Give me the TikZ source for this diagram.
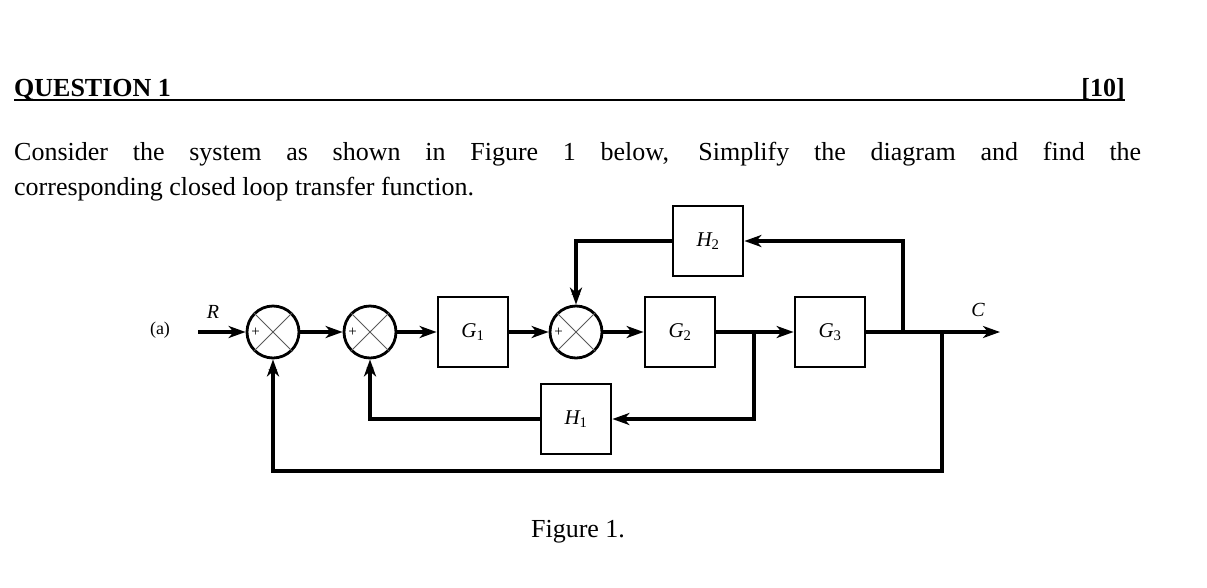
\documentclass[tikz,border=0pt]{standalone}
\usepackage{fontspec}
\setmainfont{Liberation Serif}
\usetikzlibrary{arrows.meta}
\begin{document}
\begin{tikzpicture}[x=1pt,y=-1pt,
  sig/.style={line width=4.2pt},
  arr/.style={sig,-{Stealth[length=17pt,width=12pt,inset=5pt]}},
  blk/.style={draw,line width=2.8pt,minimum width=70pt,minimum height=70pt,inner sep=0pt,font=\fontsize{21}{21}\selectfont\itshape},
  sumj/.style={draw,circle,line width=2.8pt,minimum size=52pt,inner sep=0pt},
  sgn/.style={font=\fontsize{15}{15}\selectfont,inner sep=0pt},
  lab/.style={font=\fontsize{20}{20}\selectfont\itshape,inner sep=0pt}]
\useasboundingbox (0,0) rectangle (1207,587);
% header
\node[anchor=base west,inner sep=0pt,font=\fontsize{26}{26}\selectfont\bfseries] (q) at (14,96) {QUESTION 1};
\node[anchor=base east,inner sep=0pt,font=\fontsize{26}{26}\selectfont\bfseries] (m) at (1125,96) {[10]};
\draw[line width=2pt] (14,100) -- (1125,100);
\node[anchor=base west,inner sep=0pt,font=\fontsize{26}{26}\selectfont] (t1) at (14,160) {\makebox[1127pt][s]{Consider the system as shown in Figure 1 below, Simplify the diagram and find the}};
\node[anchor=base west,inner sep=0pt,font=\fontsize{26}{26}\selectfont] (t2) at (14,195) {corresponding closed loop transfer function.};
\node[anchor=base,inner sep=0pt,font=\fontsize{26}{26}\selectfont] (fig) at (578,537) {Figure 1.};
% diagram
\node[sumj] (s1) at (273,332) {};
\node[sumj] (s2) at (370,332) {};
\node[sumj] (s3) at (576,332) {};
\foreach \s in {s1,s2,s3}{
  \draw[gray!70!black,line width=1pt] (\s.north east) -- (\s.south west) (\s.north west) -- (\s.south east);}
\node[blk] (g1) at (473,332) {G\textsubscript{\upshape 1}};
\node[blk] (g2) at (680,332) {G\textsubscript{\upshape 2}};
\node[blk] (g3) at (830,332) {G\textsubscript{\upshape 3}};
\node[blk] (h1) at (576,419) {H\textsubscript{\upshape 1}};
\node[blk] (h2) at (708,241) {H\textsubscript{\upshape 2}};
\node[sgn] at ([xshift=10pt]s1.west) {+};
\node[sgn] at ([yshift=-10pt]s1.south) {$-$};
\node[sgn] at ([xshift=10pt]s2.west) {+};
\node[sgn] at ([yshift=-10pt]s2.south) {+};
\node[sgn] at ([xshift=10pt]s3.west) {+};
\node[sgn] at ([yshift=10pt]s3.north) {$-$};
\node[font=\fontsize{18}{18}\selectfont,inner sep=0pt] (a) at (160,330) {(a)};
\coordinate (in) at (198,332);
\coordinate (out) at (1000,332);
\coordinate (b1) at (754,332);
\coordinate (b2) at (903,332);
\coordinate (b3) at (942,332);
\node[lab] (R) at (213,312) {R};
\node[lab] (C) at (978,310) {C};
\draw[arr] (in) -- (s1);
\draw[arr] (s1) -- (s2);
\draw[arr] (s2) -- (g1);
\draw[arr] (g1) -- (s3);
\draw[arr] (s3) -- (g2);
\draw[arr] (g2) -- (g3);
\draw[sig] (g3) -- (b3);
\draw[arr] (b3) -- (out);
\draw[arr] (b1) |- (h1);
\draw[arr] (h1) -| (s2);
\draw[arr] (b2) |- (h2);
\draw[arr] (h2) -| (s3);
\draw[arr] (b3) |- (273,471) -- (s1);
\end{tikzpicture}
\end{document}
